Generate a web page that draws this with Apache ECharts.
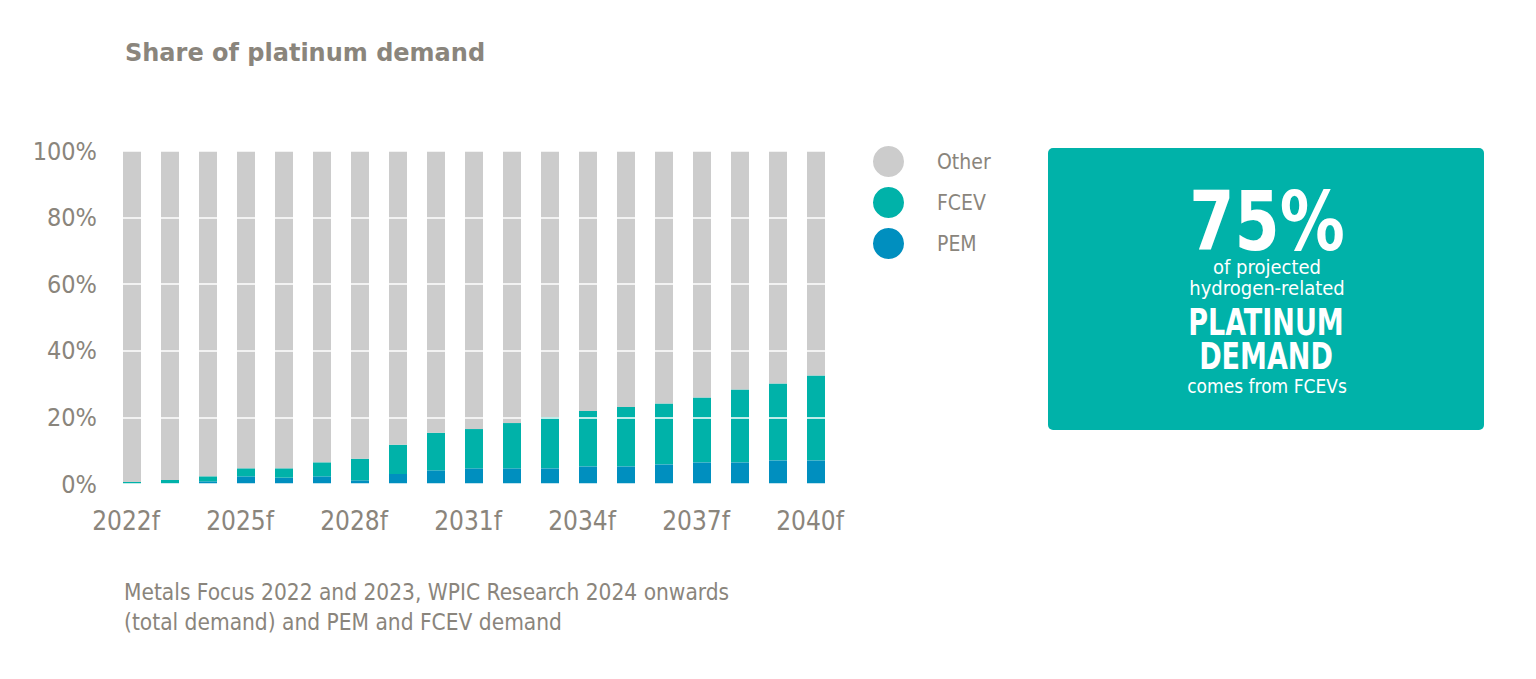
<!DOCTYPE html>
<html><head><meta charset="utf-8">
<script src="https://cdn.jsdelivr.net/npm/echarts@6/dist/echarts.min.js"></script>
<style>html,body{margin:0;padding:0;background:#fff}#c{width:1536px;height:679px}</style>
</head><body><div id="c"></div>
<script>
const years = ['2022f','2023f','2024f','2025f','2026f','2027f','2028f','2029f','2030f','2031f','2032f','2033f','2034f','2035f','2036f','2037f','2038f','2039f','2040f'];
const pem   = [0.0, 0.2, 0.8, 2.3, 1.9, 2.3, 1.1, 3.0, 4.1, 4.7, 4.7, 4.7, 5.3, 5.3, 5.9, 6.5, 6.5, 7.1, 7.1];
const fcev  = [0.6, 1.0, 1.5, 2.4, 2.8, 4.2, 6.5, 8.8, 11.3, 11.8, 13.6, 15.4, 16.6, 17.8, 18.3, 19.5, 21.9, 23.1, 25.5];
const other = [99.4, 98.8, 97.7, 95.3, 95.3, 93.5, 92.4, 88.2, 84.6, 83.5, 81.7, 79.9, 78.1, 76.9, 75.8, 74.0, 71.6, 69.8, 67.4];
const yTicks = [0, 20, 40, 60, 80, 100];

const FONT = '"DejaVu Sans Condensed","Liberation Sans Narrow","Roboto",sans-serif';
const GRAY = '#8a857c';
const chart = echarts.init(document.getElementById('c'), null, {renderer: 'svg'});
chart.setOption({
  backgroundColor: '#fff',
  animation: false,
  textStyle: {fontFamily: FONT},
  title: {
    text: 'Share of platinum demand', left: 120, top: 36,
    textStyle: {fontFamily: '"DejaVu Sans","Noto Sans",sans-serif', fontWeight: 'bold', fontSize: 24, color: GRAY}
  },
  legend: {
    orient: 'vertical', left: 868, top: 141, itemGap: 10,
    icon: 'circle', itemWidth: 31, itemHeight: 31,
    data: ['Other', 'FCEV', 'PEM'],
    textStyle: {color: GRAY, fontSize: 21, fontFamily: FONT, padding: [0, 0, 0, 28]}
  },
  grid: {left: 113, top: 151, width: 722, height: 333},
  xAxis: {
    type: 'category', data: years,
    axisLine: {show: false}, axisTick: {show: false},
    axisLabel: {interval: 2, color: GRAY, fontSize: 26, margin: 24, fontFamily: FONT, padding: [0, 12, 0, 0]}
  },
  yAxis: {
    type: 'value', min: 0, max: 100, interval: 20, z: 5,
    axisLabel: {color: GRAY, fontSize: 25, margin: 16, fontFamily: FONT,
      formatter: v => yTicks.includes(v) ? v + '%' : ''},
    splitLine: {show: true, lineStyle: {color: '#ffffff', width: 1.5}},
    axisLine: {show: false}, axisTick: {show: false}
  },
  series: [
    {name: 'PEM', type: 'bar', stack: 's', data: pem, barWidth: 18, itemStyle: {color: '#008fbf'}},
    {name: 'FCEV', type: 'bar', stack: 's', data: fcev, barWidth: 18, itemStyle: {color: '#00b2a9'}},
    {name: 'Other', type: 'bar', stack: 's', data: other, barWidth: 18, itemStyle: {color: '#cccccc'}}
  ],
  graphic: [
    {type: 'rect', left: 1048, top: 148, shape: {width: 436, height: 282, r: 5}, style: {fill: '#00b2a9'}},
    {type: 'text', x: 1267, y: 221, scaleX: 0.88, style: {text: '75%', fill: '#fff', fontSize: 82, lineHeight: 62, fontWeight: 'bold', fontFamily: FONT, textAlign: 'center', textVerticalAlign: 'middle'}},
    {type: 'text', x: 1267, y: 277.5, style: {text: 'of projected\nhydrogen-related', fill: '#fff', fontSize: 20, lineHeight: 21, fontFamily: FONT, textAlign: 'center', textVerticalAlign: 'middle'}},
    {type: 'text', x: 1266, y: 339, scaleX: 0.79, style: {text: 'PLATINUM\nDEMAND', fill: '#fff', fontSize: 38, lineHeight: 34, fontWeight: 'bold', fontFamily: FONT, textAlign: 'center', textVerticalAlign: 'middle'}},
    {type: 'text', x: 1267, y: 386, style: {text: 'comes from FCEVs', fill: '#fff', fontSize: 19, lineHeight: 20, fontFamily: FONT, textAlign: 'center', textVerticalAlign: 'middle'}},
    {type: 'text', x: 124, y: 607, style: {text: 'Metals Focus 2022 and 2023, WPIC Research 2024 onwards\n(total demand) and PEM and FCEV demand', fill: GRAY, fontSize: 22.5, lineHeight: 30, fontFamily: FONT, textVerticalAlign: 'middle'}}
  ]
});
</script></body></html>
